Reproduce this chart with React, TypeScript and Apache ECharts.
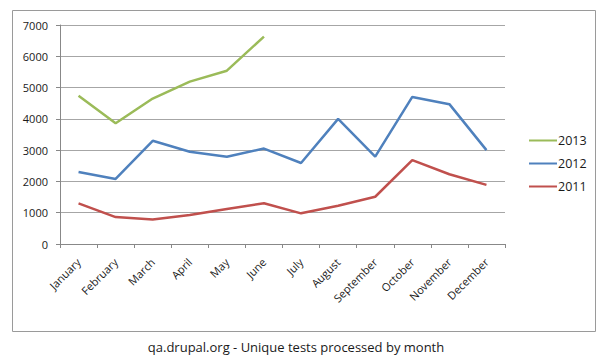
import React, { useEffect, useRef } from "react";
import * as echarts from "echarts";

const months = ["January","February","March","April","May","June","July","August","September","October","November","December"];
const s2013 = [4740, 3860, 4650, 5190, 5540, 6630, null, null, null, null, null, null];
const s2012 = [2300, 2080, 3300, 2950, 2790, 3050, 2590, 4000, 2790, 4700, 4470, 3000];
const s2011 = [1300, 860, 780, 930, 1120, 1300, 980, 1220, 1510, 2680, 2230, 1890];
const yTicks = { min: 0, max: 7000, interval: 1000 };

const FONT = "'Open Sans', 'Liberation Sans', sans-serif";

export default function App() {
  const ref = useRef<HTMLDivElement>(null);
  useEffect(() => {
    document.body.style.margin = "0";
    const chart = echarts.init(ref.current!, null, { renderer: "svg" });
    const mk = (name: string, data: (number | null)[], color: string) => ({
      name,
      type: "line",
      data,
      symbol: "none",
      smooth: false,
      connectNulls: false,
      lineStyle: { width: 2.5, color },
      itemStyle: { color },
    });
    chart.setOption({
      animation: false,
      backgroundColor: "#fff",
      textStyle: { fontFamily: FONT },
      graphic: [
        {
          type: "rect",
          shape: { x: 12.5, y: 10.5, width: 583, height: 321 },
          style: { fill: "none", stroke: "#9a9a9a", lineWidth: 1 },
          silent: true,
          z: -10,
        },
      ],
      title: {
        text: "qa.drupal.org - Unique tests processed by month",
        left: 291,
        textAlign: "center",
        top: 335,
        textStyle: { fontFamily: FONT, fontSize: 13, fontWeight: "normal", color: "#1a1a1a" },
      },
      legend: {
        orient: "vertical",
        left: 523,
        top: 129,
        itemWidth: 28,
        itemHeight: 14,
        itemGap: 10,
        data: ["2013", "2012", "2011"],
        itemStyle: { opacity: 0 },
        textStyle: { fontFamily: FONT, fontSize: 12.5, color: "#1a1a1a", padding: [0, 0, 0, -4] },
      },
      grid: { left: 60, right: 106, top: 25, bottom: 116 },
      xAxis: {
        type: "category",
        data: months,
        boundaryGap: true,
        axisLine: { lineStyle: { color: "#888", width: 1 } },
        axisTick: { show: true, length: 4, lineStyle: { color: "#888" } },
        axisLabel: { rotate: 45, fontSize: 11, color: "#1a1a1a", margin: 16, fontFamily: FONT, interval: 0 },
        splitLine: { show: false },
      },
      yAxis: {
        type: "value",
        min: yTicks.min,
        max: yTicks.max,
        interval: yTicks.interval,
        axisLine: { show: true, lineStyle: { color: "#888", width: 1 } },
        axisTick: { show: true, length: 4, lineStyle: { color: "#888" } },
        axisLabel: { fontSize: 11, color: "#1a1a1a", margin: 12, fontFamily: FONT, formatter: (v: number) => String(v) },
        splitLine: { show: true, lineStyle: { color: "#a6a6a6", width: 1 } },
      },
      series: [
        mk("2013", s2013, "#9BBB59"),
        mk("2012", s2012, "#4F81BD"),
        mk("2011", s2011, "#C0504D"),
      ],
    });
    return () => chart.dispose();
  }, []);
  return <div ref={ref} style={{ width: 611, height: 360 }} />;
}
